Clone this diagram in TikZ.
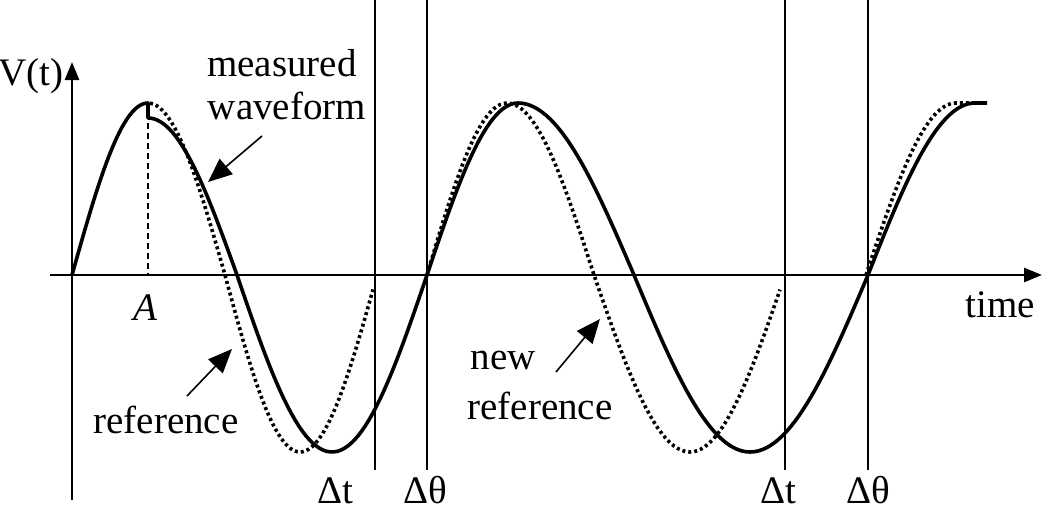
\documentclass[tikz,border=0pt]{standalone}
\usepackage{fontspec}
\setmainfont{Liberation Serif}
\usetikzlibrary{arrows.meta}
\begin{document}
\begin{tikzpicture}[x=1pt,y=-1pt,
  lbl/.style={font=\fontsize{39}{41}\selectfont, inner sep=0pt},
  wave/.style={line width=3.6pt},
  refw/.style={line width=3.6pt, dash pattern=on 3pt off 3pt},
  thin/.style={line width=1.3pt},
  ptr/.style={line width=1.6pt, -{Triangle[length=24pt,width=20pt]}},
  ax/.style={line width=2.6pt, -{Triangle[length=18pt,width=14pt]}}]
\useasboundingbox (0,0) rectangle (1053,525);
% axes
\coordinate (o) at (72,275);
\coordinate (ybot) at (72,500);
\coordinate (ytop) at (72,62);
\coordinate (xl) at (50,275);
\coordinate (xr) at (1042,275);
\draw[ax] (ybot) -- (ytop);
\draw[ax] (xl) -- (xr);
% vertical markers
\foreach \n/\x in {v1/375,v2/427,v3/785,v4/868}{
  \coordinate (\n t) at (\x,0); \coordinate (\n b) at (\x,470);
  \draw[thin] (\n t) -- (\n b);}
% A dashed
\coordinate (Atop) at (148,103); \coordinate (Abot) at (148,275);
\draw[line width=1.6pt, dash pattern=on 6pt off 4pt] (Atop) -- (Abot);
% solid measured waveform
\draw[wave, line join=round] plot[domain=72:148,samples=30] (\x,{275-172*sin((\x-72)/76*90)})
  -- plot[domain=148:237,samples=30] (\x,{275-157*cos((\x-148)/89*90)})
  -- plot[domain=237:427,samples=50] (\x,{275+177*sin((\x-237)/190*180)})
  -- plot[domain=427:518,samples=30] (\x,{275-172*sin((\x-427)/91*90)})
  -- plot[domain=518:634,samples=30] (\x,{275-172*cos((\x-518)/116*90)})
  -- plot[domain=634:750,samples=30] (\x,{275+177*sin((\x-634)/116*90)})
  -- plot[domain=750:868,samples=30] (\x,{275+177*cos((\x-750)/118*90)})
  -- plot[domain=868:975,samples=30] (\x,{275-172*sin((\x-868)/107*90)})
  -- (987,103);
% dotted reference
\draw[refw] plot[domain=150:225,samples=25] (\x,{275-172*cos((\x-148)/77*90)})
  -- plot[domain=225:300,samples=25] (\x,{275+177*sin((\x-225)/75*90)})
  -- plot[domain=300:373,samples=25] (\x,{275+177*cos((\x-300)/77*90)});
% dotted new reference
\draw[refw] plot[domain=427:507,samples=25] (\x,{275-172*sin((\x-427)/80*90)})
  -- plot[domain=507:594,samples=25] (\x,{275-172*cos((\x-507)/87*90)})
  -- plot[domain=594:690,samples=25] (\x,{275+177*sin((\x-594)/96*90)})
  -- plot[domain=690:780,samples=25] (\x,{275+177*cos((\x-690)/95*90)});
\draw[refw] plot[domain=866:956,samples=30] (\x,{275-172*sin((\x-866)/90*90)})
  -- (985,103);
% labels
\node[lbl, anchor=west] (vt) at (-2,76) {V(t)};
\node[lbl] (meas) at (282,63) {measured};
\node[lbl] (wavef) at (287,106) {waveform};
\node[lbl] (ref) at (166,420) {reference};
\node[lbl] (new) at (503,360) {new};
\node[lbl] (nref) at (540,406) {reference};
\node[lbl, font=\fontsize{39}{41}\selectfont\itshape] (A) at (145,308) {A};
\node[lbl] (time) at (1000,305) {time};
\node[lbl] (d1) at (382,490) {Δt ∝ Δθ};
\node[lbl] (d2) at (825,490) {Δt ∝ Δθ};
% pointer arrows
\coordinate (p1s) at (262,136); \coordinate (p1e) at (208,182);
\coordinate (p2s) at (187,396); \coordinate (p2e) at (232,349);
\coordinate (p3s) at (556,372); \coordinate (p3e) at (600,319);
\draw[ptr] (p1s) -- (p1e);
\draw[ptr] (p2s) -- (p2e);
\draw[ptr] (p3s) -- (p3e);
\end{tikzpicture}
\end{document}
